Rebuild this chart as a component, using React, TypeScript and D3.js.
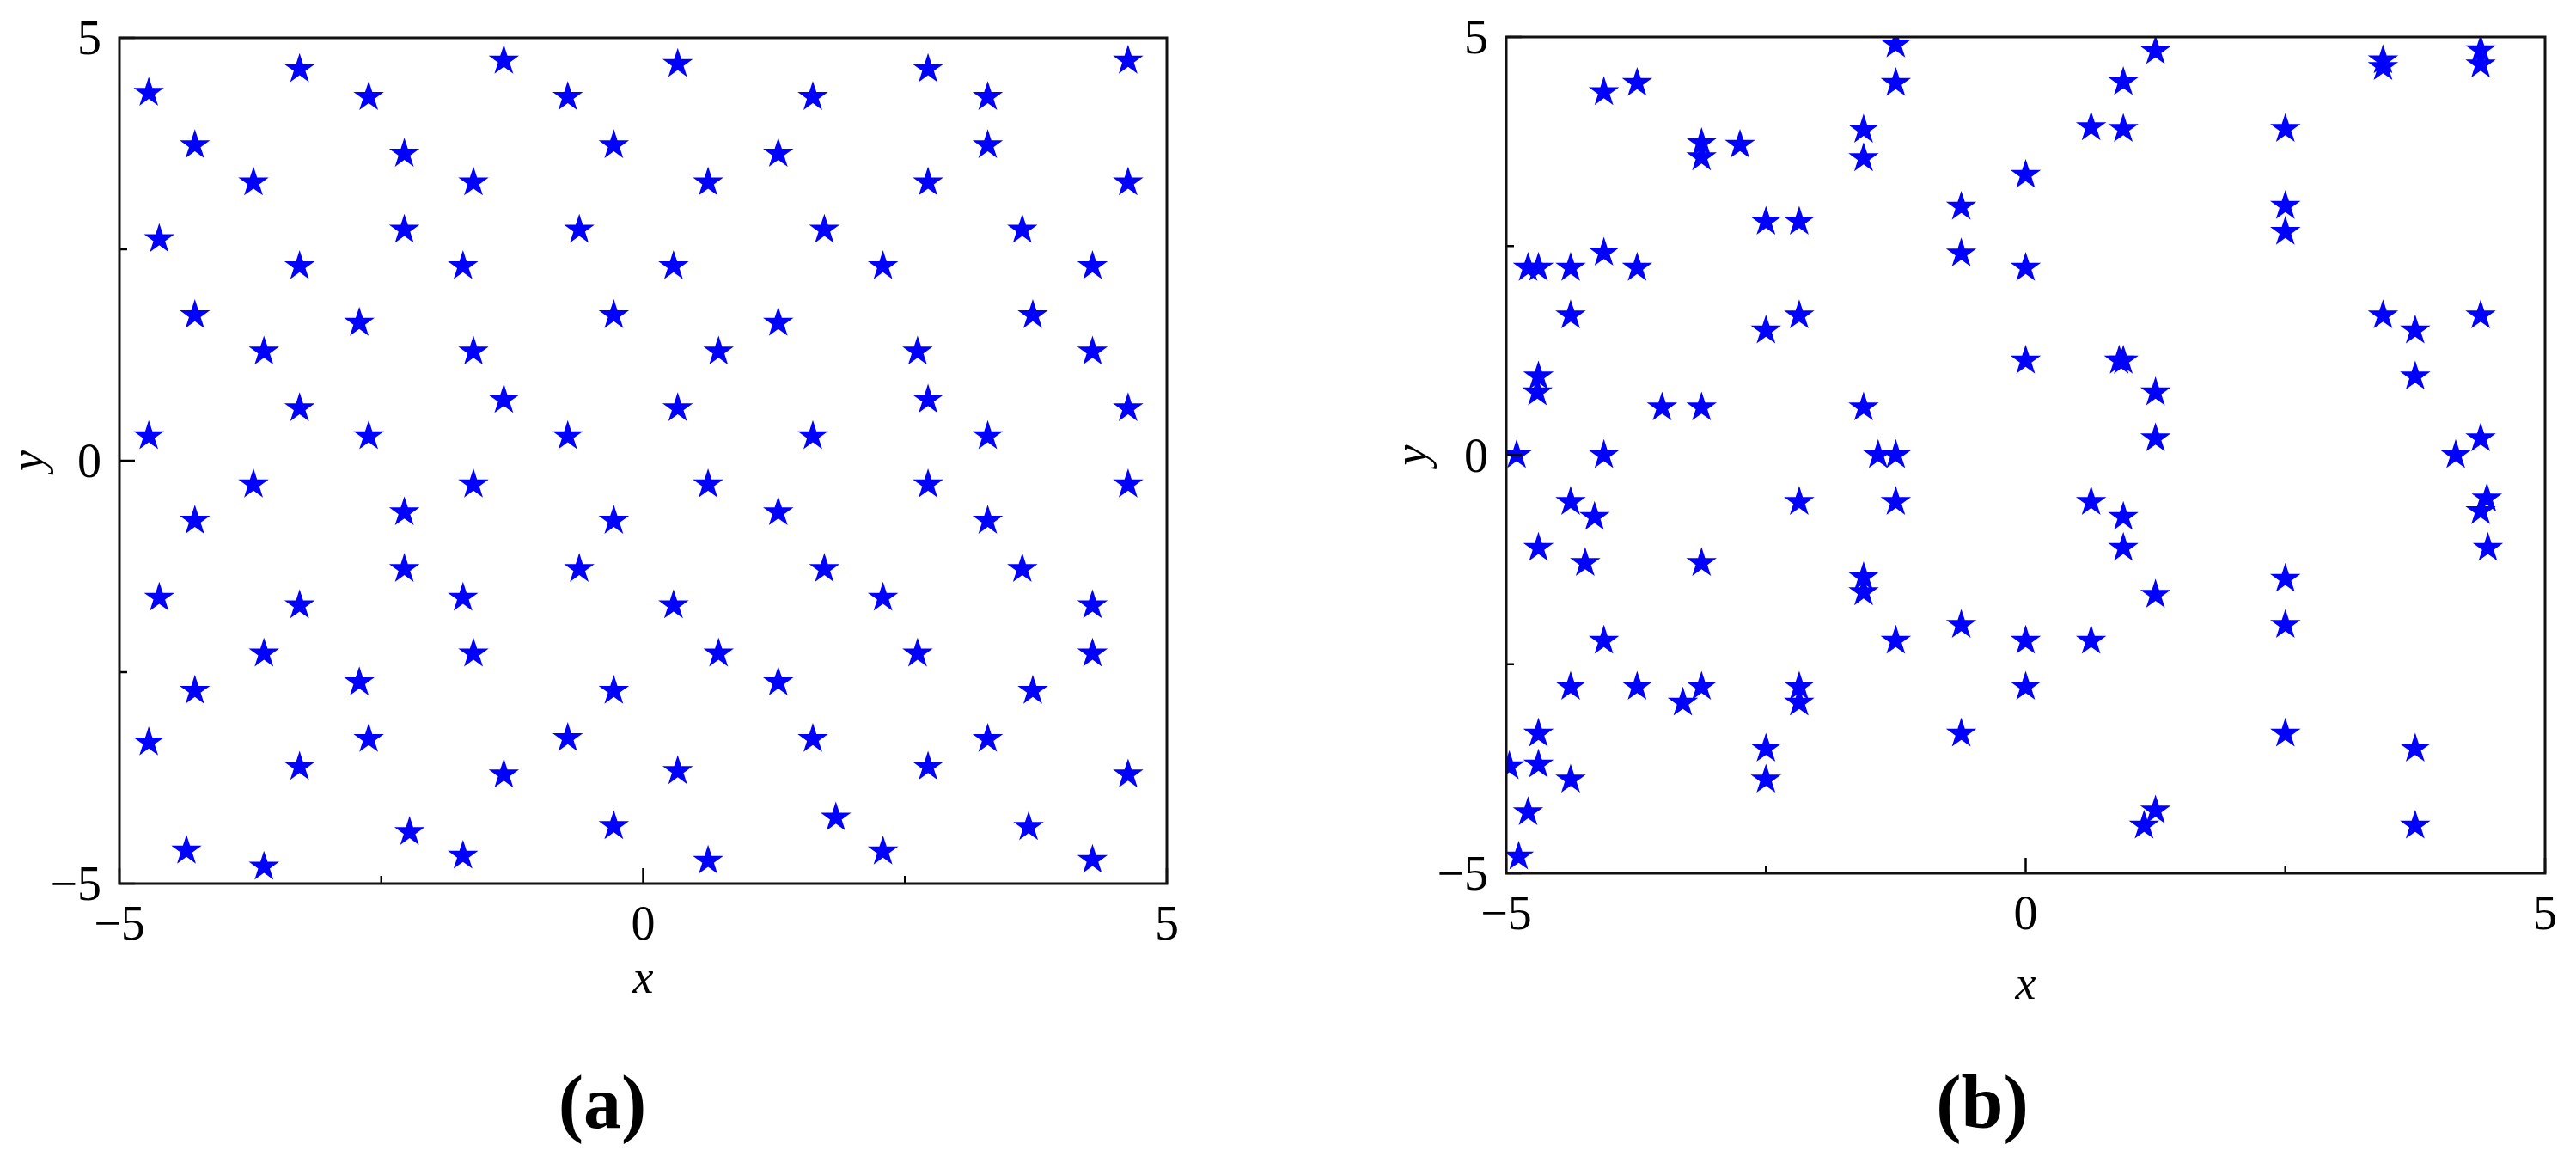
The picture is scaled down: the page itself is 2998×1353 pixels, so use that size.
import React from "react";
import * as d3 from "d3";

// ---------- data ----------
const panelAX = [
  -4.72, -3.28, -2.62, -1.33, -0.72, -4.28, -2.28, -0.28, -3.72, -1.62, -4.62, -2.28, -0.61, -3.28, -1.72, -4.28, -2.71, -0.28, -3.62, -1.62, -3.28, -1.33, -4.72, -2.62, -0.72,
  0.33, 2.72, 4.63, 1.62, 3.29, 1.29, 3.29, 0.62, 2.72, 4.63, 1.73, 3.62, 0.29, 2.29, 4.29, 1.29, 3.72, 0.72, 2.62, 4.29, 0.33, 2.72, 4.63, 1.62, 3.29,
  -3.72, -1.62, -4.28, -2.28, -0.28, -2.28, -0.61, -4.62, -3.28, -1.72, -3.62, -1.62, -2.71, -4.28, -0.28, -4.72, -2.62, -0.72, -3.28, -1.33, -2.23, -0.28, -4.36, -1.72, -3.62,
  0.62, 2.72, 4.63, 1.29, 3.29, 1.73, 3.62, 2.29, 0.29, 4.29, 0.72, 2.62, 4.29, 1.29, 3.72, 1.62, 3.29, 0.33, 2.72, 4.63, 1.84, 3.68, 2.29, 0.62, 4.29,
];
const panelAY = [
  4.35, 4.63, 4.30, 4.73, 4.30, 3.73, 3.63, 3.73, 3.29, 3.29, 2.62, 2.73, 2.73, 2.30, 2.30, 1.72, 1.63, 1.72, 1.29, 1.29, 0.62, 0.72, 0.29, 0.29, 0.29,
  4.69, 4.63, 4.73, 4.30, 4.30, 3.63, 3.73, 3.29, 3.29, 3.29, 2.73, 2.73, 2.30, 2.30, 2.30, 1.63, 1.72, 1.29, 1.29, 1.29, 0.62, 0.72, 0.62, 0.29, 0.29,
  -0.28, -0.28, -0.71, -0.61, -0.71, -1.28, -1.28, -1.62, -1.71, -1.62, -2.28, -2.28, -2.62, -2.72, -2.72, -3.33, -3.29, -3.28, -3.62, -3.71, -4.39, -4.32, -4.61, -4.67, -4.80,
  -0.28, -0.28, -0.28, -0.61, -0.71, -1.28, -1.28, -1.62, -1.71, -1.71, -2.28, -2.28, -2.28, -2.62, -2.72, -3.29, -3.29, -3.67, -3.62, -3.71, -4.22, -4.33, -4.62, -4.73, -4.72,
];

const panelBX = [
  -1.25, -1.25, -4.06, -3.74, -3.12, -3.12, -2.75, -1.56, -1.56, -0.62, -2.50, -2.18, -0.62, -4.79, -4.69, -4.38, -4.06, -3.74, -4.38, -2.50, -2.18, -4.69, -4.70, -3.50, -3.12, -1.56,
  0, 0, 0, 0, 0,
  -4.90, -4.06, -1.42, -1.25, 4.14,
  1.25, 0.94, 0.63, 0.94, 2.50, 2.50, 2.50, 3.44, 3.44, 4.38, 4.38, 3.44, 3.75, 4.38, 0.90, 0.94, 1.25, 3.75, 1.25, 4.38,
  -4.38, -4.15, -2.18, -1.25, -4.69, -4.24, -3.12, -1.56, -1.56, -0.62, -1.25, -4.06, -4.38, -3.74, -3.30, -3.12, -2.18, -2.18, -0.62, -4.69, -4.69, -4.97, -4.38, -2.50, -2.50, -4.79, -4.88,
  0.63, 0.94, 0.94, 1.25, 4.44, 4.38, 4.45, 2.50, 2.50, 0.63, 2.50, 3.75, 1.25, 1.14, 3.75,
];
const panelBY = [
  4.91, 4.45, 4.34, 4.45, 3.73, 3.56, 3.71, 3.89, 3.55, 2.97, 2.79, 2.79, 2.41, 2.24, 2.24, 2.24, 2.42, 2.24, 1.67, 1.49, 1.67, 0.94, 0.75, 0.57, 0.57, 0.57,
  3.35, 2.24, 1.13, -2.22, -2.77,
  0, 0, 0, 0, 0,
  4.83, 4.46, 3.92, 3.90, 3.90, 2.98, 2.67, 4.72, 4.64, 4.84, 4.67, 1.67, 1.49, 1.67, 1.13, 1.13, 0.75, 0.94, 0.20, 0.20,
  -0.56, -0.74, -0.56, -0.56, -1.11, -1.29, -1.29, -1.46, -1.64, -2.03, -2.22, -2.22, -2.77, -2.77, -2.96, -2.77, -2.77, -2.96, -3.33, -3.33, -3.70, -3.72, -3.88, -3.51, -3.88, -4.27, -4.80,
  -0.56, -0.74, -1.11, -1.67, -0.52, -0.67, -1.11, -1.48, -2.03, -2.22, -3.33, -3.51, -4.25, -4.43, -4.43,
];

const majorTicks = [-5, 0, 5];
const minorTicks = [-2.5, 2.5];
const tickLabels = ["\u22125", "0", "5"];
const panelLabels = ["(a)", "(b)"];
const axisDomain: [number, number] = [-5, 5];

// ---------- layout ----------
const W = 2998;
const H = 1353;
const FONT = "'Liberation Serif', 'Times New Roman', Times, serif";

const panels = [
  { id: "a", left: 139, right: 1358, top: 44, bottom: 1028, xs: panelAX, ys: panelAY, labelX: 701, xLabelY: 1155, yLabelX: 50 },
  { id: "b", left: 1753, right: 2962, top: 43, bottom: 1016, xs: panelBX, ys: panelBY, labelX: 2307, xLabelY: 1162, yLabelX: 1660 },
];

const starPath = d3.symbol().type(d3.symbolStar).size(390)() as string;

function Panel({ p, label }: { p: any; label: string }) {
  const x = d3.scaleLinear().domain(axisDomain).range([p.left, p.right]);
  const y = d3.scaleLinear().domain(axisDomain).range([p.bottom, p.top]);
  const clipId = `clip-${p.id}`;
  const pts = p.xs.map((v: number, i: number) => [v, p.ys[i]]);
  return (
    <g>
      <defs>
        <clipPath id={clipId}>
          <rect x={p.left} y={p.top} width={p.right - p.left} height={p.bottom - p.top} />
        </clipPath>
      </defs>
      <g clipPath={`url(#${clipId})`}>
        {pts.map((d: number[], i: number) => (
          <path key={i} d={starPath} transform={`translate(${x(d[0])},${y(d[1])})`} fill="#0000ff" />
        ))}
      </g>
      {majorTicks.map((t) => (
        <g key={`mx${t}`}>
          <line x1={x(t)} x2={x(t)} y1={p.bottom} y2={p.bottom - 18} stroke="#000" strokeWidth={2.5} />
          <line x1={p.left} x2={p.left + 18} y1={y(t)} y2={y(t)} stroke="#000" strokeWidth={2.5} />
        </g>
      ))}
      {minorTicks.map((t) => (
        <g key={`mn${t}`}>
          <line x1={x(t)} x2={x(t)} y1={p.bottom} y2={p.bottom - 9} stroke="#000" strokeWidth={2.5} />
          <line x1={p.left} x2={p.left + 9} y1={y(t)} y2={y(t)} stroke="#000" strokeWidth={2.5} />
        </g>
      ))}
      <rect x={p.left} y={p.top} width={p.right - p.left} height={p.bottom - p.top} fill="none" stroke="#111" strokeWidth={3} />
      {majorTicks.map((t, i) => (
        <text key={`xl${t}`} x={x(t)} y={p.bottom + 65} textAnchor="middle" fontFamily={FONT} fontSize={56} fill="#000">
          {tickLabels[i]}
        </text>
      ))}
      {majorTicks.map((t, i) => (
        <text key={`yl${t}`} x={p.left - 21} y={y(t) + 19} textAnchor="end" fontFamily={FONT} fontSize={56} fill="#000">
          {tickLabels[i]}
        </text>
      ))}
      <text x={(p.left + p.right) / 2} y={p.xLabelY} textAnchor="middle" fontFamily={FONT} fontStyle="italic" fontSize={54} fill="#000">
        x
      </text>
      <text
        transform={`translate(${p.yLabelX},${(p.top + p.bottom) / 2}) rotate(-90)`}
        textAnchor="middle"
        fontFamily={FONT}
        fontStyle="italic"
        fontSize={54}
        fill="#000"
      >
        y
      </text>
      <text x={p.labelX} y={1312} textAnchor="middle" fontFamily={FONT} fontWeight="bold" fontSize={88} fill="#000">
        {label}
      </text>
    </g>
  );
}

export default function App() {
  return (
    <svg
      width={W}
      height={H}
      viewBox={`0 0 ${W} ${H}`}
      style={{ position: "absolute", left: 0, top: 0, background: "#fff", display: "block" }}
    >
      <rect x={0} y={0} width={W} height={H} fill="#fff" />
      {panels.map((p, i) => (
        <Panel key={p.id} p={p} label={panelLabels[i]} />
      ))}
    </svg>
  );
}
